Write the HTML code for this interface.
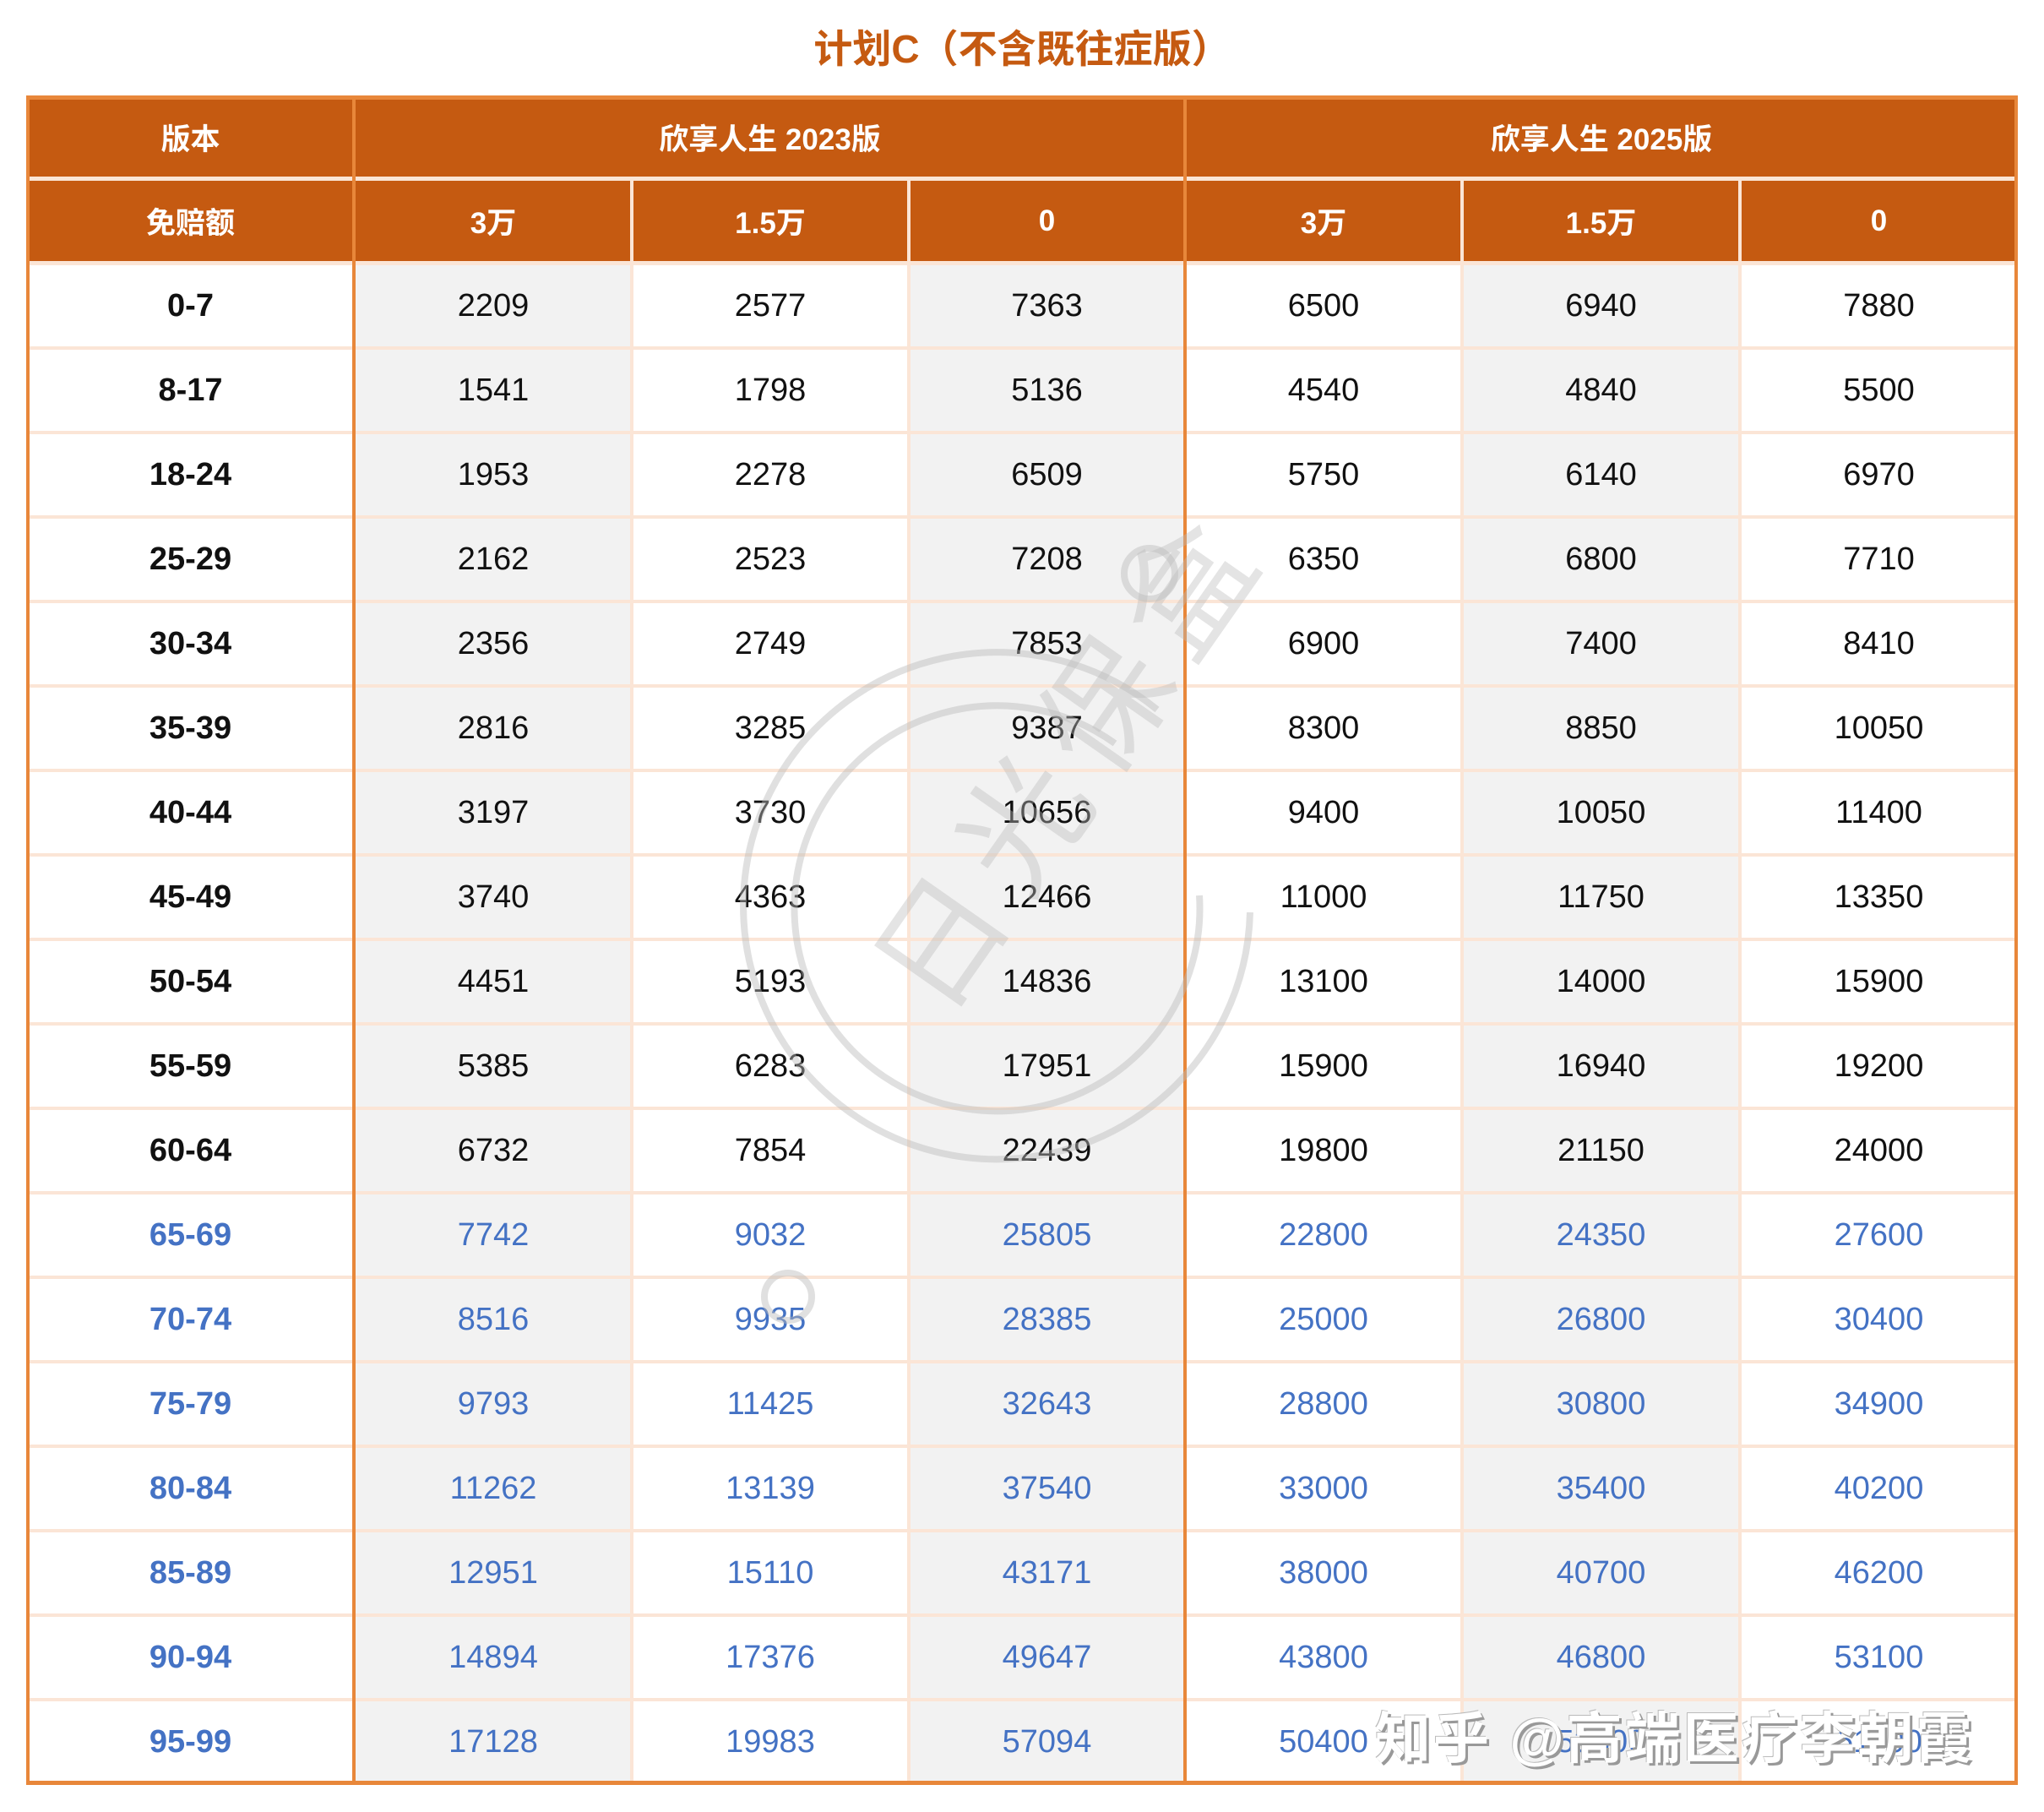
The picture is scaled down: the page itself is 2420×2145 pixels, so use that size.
<!DOCTYPE html>
<html><head><meta charset="utf-8">
<style>
html,body{margin:0;padding:0;background:#fff;}
body{width:2420px;height:2145px;position:relative;overflow:hidden;font-family:"Liberation Sans","Noto Sans CJK SC",sans-serif;}
#title{position:absolute;left:0;top:22px;width:2420px;text-align:center;font-size:46px;font-weight:bold;color:#C55A11;}
#tbl{position:absolute;left:31px;top:113px;width:2358px;height:2000px;}
.c{position:absolute;box-sizing:border-box;display:flex;align-items:center;justify-content:center;}
.h{background:#C55A11;color:#fff;font-weight:bold;font-size:35px;}
.d{font-size:38px;color:#111;}
.blue{color:#4472C4;}
.grey{background:#F2F2F2;}
.age{font-weight:bold;}
.hl{position:absolute;background:#FBE5D6;}
.ol{position:absolute;background:#E8873A;}
#wm{position:absolute;left:1628px;top:2005px;font-size:66px;font-weight:bold;color:#fff;text-shadow:3px 3px 0 #999,-1px -1px 0 #bbb;letter-spacing:3px;}
</style></head><body>
<div id="title">计划C（不含既往症版）</div>
<div id="tbl"></div>
<svg style="position:absolute;left:0;top:0" width="2420" height="2145">
 <g fill="none" stroke="#bbb" stroke-opacity="0.45" stroke-width="8">
  <path d="M 1370 840 A 300 300 0 1 0 1480 1080"/>
  <path d="M 1320 880 A 240 240 0 1 0 1420 1060"/>
  <circle cx="1361" cy="679" r="30"/>
  <circle cx="933" cy="1535" r="28"/>
 </g>
 <text x="960" y="1090" font-size="150" fill="#bbb" fill-opacity="0.4" transform="rotate(-55 1150 1000)" font-family="Noto Sans CJK SC, sans-serif" letter-spacing="20">日光保盒</text>
</svg>
<div id="wm">知乎 @高端医疗李朝霞</div>
<script>
const ages=["0-7","8-17","18-24","25-29","30-34","35-39","40-44","45-49","50-54","55-59","60-64","65-69","70-74","75-79","80-84","85-89","90-94","95-99"];
const v2023_3w=[2209,1541,1953,2162,2356,2816,3197,3740,4451,5385,6732,7742,8516,9793,11262,12951,14894,17128];
const v2023_15=[2577,1798,2278,2523,2749,3285,3730,4363,5193,6283,7854,9032,9935,11425,13139,15110,17376,19983];
const v2023_0=[7363,5136,6509,7208,7853,9387,10656,12466,14836,17951,22439,25805,28385,32643,37540,43171,49647,57094];
const v2025_3w=[6500,4540,5750,6350,6900,8300,9400,11000,13100,15900,19800,22800,25000,28800,33000,38000,43800,50400];
const v2025_15=[6940,4840,6140,6800,7400,8850,10050,11750,14000,16940,21150,24350,26800,30800,35400,40700,46800,53300];
const v2025_0=[7880,5500,6970,7710,8410,10050,11400,13350,15900,19200,24000,27600,30400,34900,40200,46200,53100,61100];
const deductibles=["3万","1.5万","0","3万","1.5万","0"];
const cols=[0,389,717,1045,1372,1700,2029,2358];
const t=document.getElementById('tbl');
function cell(x,y,w,h,cls,txt,name){
  const e=document.createElement('div');
  e.className='c '+cls;
  e.style.left=x+'px';e.style.top=y+'px';e.style.width=w+'px';e.style.height=h+'px';
  e.textContent=txt;
  
  
  t.appendChild(e);return e;
}
cell(0,0,389,98,'h','版本','version-header');
cell(389,0,983,98,'h','欣享人生 2023版','version-2023-header');
cell(1372,0,986,98,'h','欣享人生 2025版','version-2025-header');
cell(0,98,389,101,'h','免赔额','deductible-header');
for(let i=0;i<6;i++)cell(cols[i+1],98,cols[i+2]-cols[i+1],101,'h',deductibles[i],'deductible-'+i);
const series=[v2023_3w,v2023_15,v2023_0,v2025_3w,v2025_15,v2025_0];
const greyCols=[0,2,4];
const rowH=100,top0=199;
for(let r=0;r<ages.length;r++){
  const y=top0+r*rowH;const blue=r>=11?' blue':'';
  cell(0,y,389,rowH,'d age'+blue,ages[r],'age-'+ages[r]);
  for(let c=0;c<6;c++){
    cell(cols[c+1],y,cols[c+2]-cols[c+1],rowH,'d'+blue+(greyCols.includes(c)?' grey':''),String(series[c][r]),'premium-cell');
  }
}
function line(cls,x,y,w,h,name){const e=document.createElement('div');e.className=cls;e.style.left=x+'px';e.style.top=y+'px';e.style.width=w+'px';e.style.height=h+'px';


t.appendChild(e);}
line('hl',389,96,1969,5,'header-divider');
line('hl',0,96,389,5,'header-divider');
for(let r=1;r<ages.length;r++)line('hl',0,top0+r*rowH-2,2358,4,'row-divider');
line('hl',0,top0-3,2358,5,'body-top-divider');
for(const c of [2,3,5,6])line('hl',cols[c]-2,98,4,1902,'column-divider');
line('ol',386,0,4,2000,'first-column-divider');
line('ol',1370,0,4,2000,'group-divider');
line('ol',0,0,2358,5,'border-top');
line('ol',0,1995,2358,5,'border-bottom');
line('ol',0,0,4,2000,'border-left');
line('ol',2354,0,4,2000,'border-right');
</script>
</body></html>
